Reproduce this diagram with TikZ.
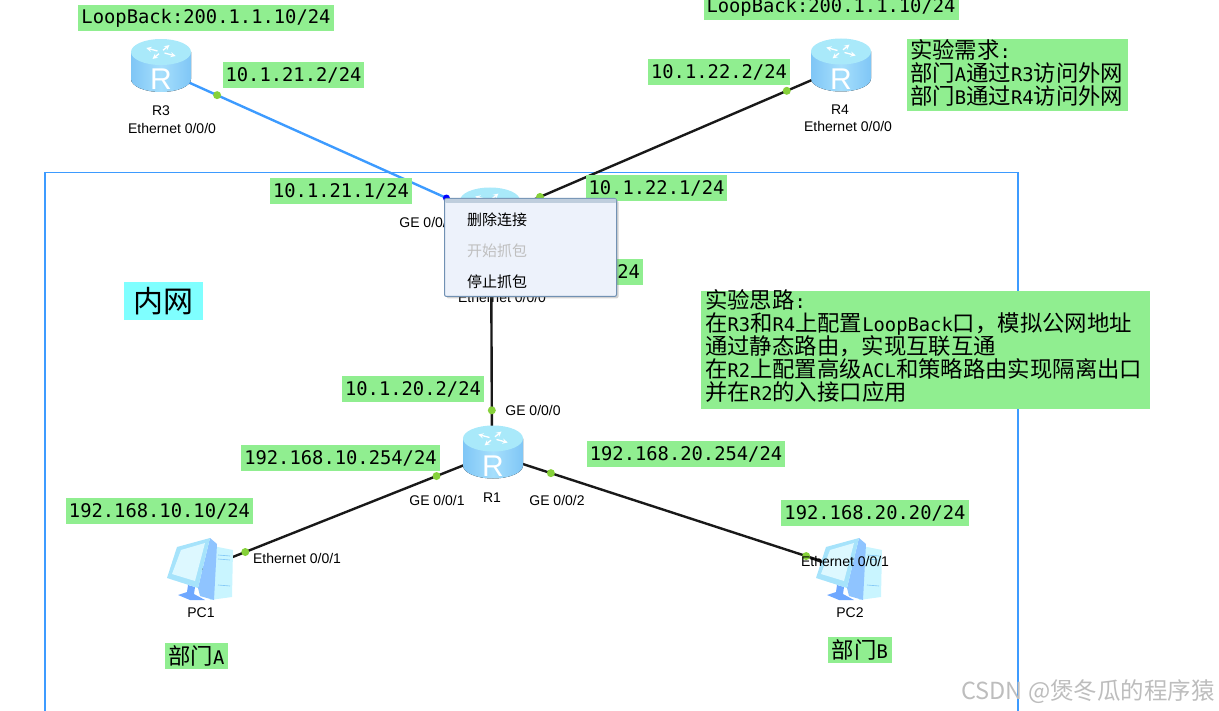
\documentclass[tikz,border=0pt]{standalone}
\usepackage{fontspec}
\setmainfont{Liberation Sans}
\newfontfamily\ipmono{DejaVu Sans Mono}
\newfontfamily\cjk[Scale=1.19]{Noto Sans CJK SC}
\newfontfamily\cjkplain{Noto Sans CJK SC}
\definecolor{labelgreen}{HTML}{90EE90}
\definecolor{lancyan}{HTML}{7FFFFF}
\definecolor{framecolor}{HTML}{3D9BFF}
\definecolor{portgreen}{HTML}{86D13A}
\definecolor{menuback}{HTML}{EDF2FB}
\definecolor{menuedge}{HTML}{7191B3}
\definecolor{waterink}{HTML}{BDBDBD}
\definecolor{routeredge}{HTML}{7FC6F6}
\definecolor{routermid}{HTML}{A6DFFC}
\definecolor{routertop}{HTML}{A9E9FA}
\definecolor{pcframe}{HTML}{A6E3FB}
\definecolor{pcscreen}{HTML}{DDF8FF}
\definecolor{pcback}{HTML}{8FC4FF}
\definecolor{pctower}{HTML}{C9F5FF}
\definecolor{pcbase}{HTML}{6FA8FF}
\usetikzlibrary{shadows}
\tikzset{
iplabel/.style={fill=labelgreen,inner xsep=3pt,inner ysep=0pt,minimum height=26pt,font=\ipmono\fontsize{18.8}{23}\selectfont},
notetext/.style={anchor=north west,inner xsep=0pt,inner ysep=2pt,align=left,font=\ipmono\fontsize{18.8}{23}\selectfont},
portname/.style={font=\fontsize{14}{16}\selectfont,inner sep=0pt},
portdot/.style={circle,fill=portgreen,inner sep=0pt,minimum size=8pt},
link/.style={line width=2.4pt,color=black!90},
menuitem/.style={anchor=west,inner sep=0pt,font=\cjkplain\fontsize{15}{17}\selectfont},
routericon/.pic={
\fill[left color=routeredge,right color=routeredge,middle color=routermid] (-30,-13.5) -- (-30,13.5) arc[start angle=180,end angle=0,x radius=30,y radius=13] -- (30,-13.5) -- cycle;
\fill[routertop] (0,-13.5) ellipse[x radius=30,y radius=13];
\foreach \a in {30,120,210,300}{\draw[white,line width=1.3pt,-stealth,shift={(0,-13.5)}] (\a:4 and 2) -- (\a:17 and 8);}
\node[white,inner sep=0pt,font=\fontsize{30}{30}\selectfont] at (0,14) {R};
},
pcicon/.pic={
\fill[pctower] (8,-25) -- (33,-20) -- (32,27) -- (10,30) -- cycle;
\foreach \h in {-15,-11,15}{\draw[routeredge,line width=.6pt] (18,\h) -- (30,\h+1);}
\fill[pcback] (10,-32) -- (17,-26) -- (14,30) -- (0,26) -- (-2,18) -- cycle;
\fill[pcbase] (-12,15) -- (-5,17) -- (-6,24) -- (5,30) -- (-10,30) -- (-22,25) -- (-13,22) -- cycle;
\fill[pcframe] (-23,-23) -- (10,-32) -- (-2,18) -- (-33,8) -- cycle;
\fill[pcscreen] (-19,-20) -- (5,-27) -- (-5,11) -- (-28,4) -- cycle;
}}
\begin{document}
\begin{tikzpicture}[x=1pt,y=-1pt]
\useasboundingbox (0,0) rectangle (1219,711);
\draw[framecolor,line width=1.2pt] (45,711) -- (45,172.5) -- (1018,172.5) -- (1018,711);
\coordinate (R3) at (161,70);
\coordinate (R4) at (841,67.5);
\coordinate (R2) at (491,218);
\coordinate (R1) at (492,454);
\coordinate (PC1) at (200,570);
\coordinate (PC2) at (849,570);
\coordinate (pc2end) at (822,562);
% links
\draw[link,color=framecolor] (R3) -- (R2) node[portdot,pos=.17] (p3) {} node[portdot,pos=.865,fill=blue,minimum size=7pt] (p2a) {};
\draw[link] (R4) -- (R2) node[portdot,pos=.155] (p4) {} node[portdot,pos=.86] (p2b) {};
\draw[link] (R2) -- (R1) node[portdot,pos=.815] (p1a) {};
\draw[link] (R1) -- (PC1) node[portdot,pos=.19] (p1b) {} node[portdot,pos=.845] (pc1p) {};
\draw[link] (R1) -- (PC2) node[portdot,pos=.165] (p1c) {} node[portdot,pos=.88] (pc2p) {};
% devices
\foreach \n/\xx/\yy in {r3/161/65.5,r4/841/65,r2/490/214,r1/493/452}{\pic (\n) at (\xx,\yy) {routericon};}
\pic (pca) at (200,570) {pcicon};
\pic (pcb) at (849,570) {pcicon};
\draw[link] (pc2p) -- (pc2end);
\node[portname] (nr3) at (161,111) {R3};
\node[portname] (er3) at (172,128) {Ethernet 0/0/0};
\node[portname] (nr4) at (840,110) {R4};
\node[portname] (er4) at (848,126) {Ethernet 0/0/0};
\node[portname] (ge2) at (427,222) {GE 0/0/0};
\node[portname] (er2) at (502,297) {Ethernet 0/0/0};
\node[portname] (ge1a) at (533,410) {GE 0/0/0};
\node[portname] (ge1b) at (437,500) {GE 0/0/1};
\node[portname] (nr1) at (492,498) {R1};
\node[portname] (ge1c) at (557,500) {GE 0/0/2};
\node[portname] (epc1) at (297,558) {Ethernet 0/0/1};
\node[portname] (npc1) at (201,613) {PC1};
\node[portname] (epc2) at (845,561) {Ethernet 0/0/1};
\node[portname] (npc2) at (850,613) {PC2};
% labels
\node[iplabel] (lb3) at (206,18) {LoopBack:200.1.1.10/24};
\node[iplabel] (lb4) at (831,7) {LoopBack:200.1.1.10/24};
\node[iplabel] (a1) at (293.5,75) {10.1.21.2/24};
\node[iplabel] (a2) at (719,72) {10.1.22.2/24};
\node[iplabel] (a3) at (341,191.5) {10.1.21.1/24};
\node[iplabel] (a4) at (656.5,188.5) {10.1.22.1/24};
\node[iplabel] (a5) at (572,272) {10.1.20.1/24};
\node[iplabel] (a6) at (413,389) {10.1.20.2/24};
\node[iplabel] (a7) at (340.5,458) {192.168.10.254/24};
\node[iplabel] (a8) at (686,454) {192.168.20.254/24};
\node[iplabel] (a9) at (159.5,511) {192.168.10.10/24};
\node[iplabel] (a10) at (875,513) {192.168.20.20/24};
\node[iplabel,minimum width=63pt,inner xsep=0pt] (depta) at (196.5,655.5) {{\cjk 部门}A};
\node[iplabel,minimum width=64pt,inner xsep=0pt] (deptb) at (860,650) {{\cjk 部门}B};
\node[fill=lancyan,minimum width=79pt,minimum height=38pt,inner sep=0pt,font=\cjkplain\fontsize{30}{32}\selectfont] (lan) at (163.5,301) {内网};
\fill[labelgreen] (907,39) rectangle (1128,111);
\node[notetext] (need) at (910,37) {{\cjk 实验需求}:\\{\cjk 部门}A{\cjk 通过}R3{\cjk 访问外网}\\{\cjk 部门}B{\cjk 通过}R4{\cjk 访问外网}};
\fill[labelgreen] (701,291) rectangle (1150,409);
\node[notetext] (idea) at (705,287.5) {{\cjk 实验思路}:\\{\cjk 在}R3{\cjk 和}R4{\cjk 上配置}LoopBack{\cjk 口，模拟公网地址}\\{\cjk 通过静态路由，实现互联互通}\\{\cjk 在}R2{\cjk 上配置高级}ACL{\cjk 和策略路由实现隔离出口}\\{\cjk 并在}R2{\cjk 的入接口应用}};
% context menu
\node[anchor=north west,fill=menuback,draw=menuedge,line width=1pt,rounded corners=2pt,drop shadow={opacity=.35,shadow xshift=2pt,shadow yshift=-2pt},minimum width=172pt,minimum height=98pt] (menu) at (444,198) {};
\fill[menuedge!45,rounded corners=1pt] ([xshift=1pt,yshift=-1pt]menu.north west) rectangle ([xshift=-1pt,yshift=-5pt]menu.north east);
\node[menuitem] (m1) at (467,220) {删除连接};
\node[menuitem,text=black!25] (m2) at (467,251) {开始抓包};
\node[menuitem] (m3) at (467,282) {停止抓包};
\node[anchor=east,inner sep=0pt,text=waterink,font=\cjkplain\fontsize{23.5}{25}\selectfont] (mark) at (1215,692) {CSDN @煲冬瓜的程序猿};
\end{tikzpicture}
\end{document}
